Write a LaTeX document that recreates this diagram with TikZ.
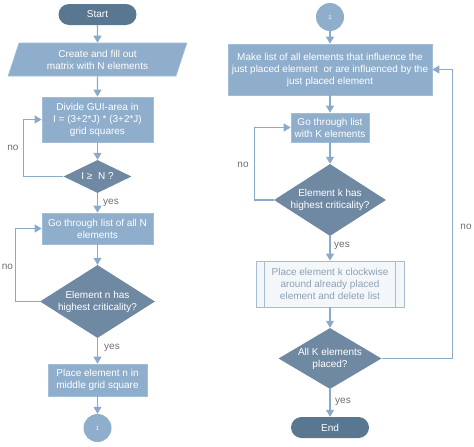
\documentclass[tikz,border=0pt]{standalone}
\usepackage{fontspec}
\setmainfont{Liberation Sans}
\usetikzlibrary{shapes.geometric,shapes.misc,arrows.meta,calc}
\definecolor{lightfill}{HTML}{8FAECB}
\definecolor{lightedge}{HTML}{A3BDD6}
\definecolor{darkterm}{HTML}{5A7792}
\definecolor{diafill}{HTML}{7089A3}
\definecolor{arrowc}{HTML}{8BAACA}
\definecolor{ppfill}{HTML}{F4F7FA}
\definecolor{ppdraw}{HTML}{A8BCD0}
\definecolor{pptext}{HTML}{8CA0B6}
\definecolor{labelc}{HTML}{6E6E6E}
\newcommand{\fs}{\fontsize{10pt}{12pt}\selectfont}
\begin{document}
\begin{tikzpicture}[x=1pt,y=-1pt,
  box/.style={rectangle, fill=lightfill, draw=lightedge, line width=0.6pt, text=white, align=center, font=\fs, inner sep=0pt},
  term/.style={rounded rectangle, fill=darkterm, draw=none, text=white, font=\fs, minimum width=78pt, minimum height=21pt, inner sep=0pt},
  dia/.style={diamond, fill=diafill, draw=none, inner sep=0pt},
  diatext/.style={text=white, align=center, font=\fs, inner sep=0pt},
  conn/.style={circle, fill=lightfill, draw=none, minimum size=28pt, inner sep=0pt, text=white, font=\fontsize{6pt}{7pt}\selectfont},
  arr/.style={draw=arrowc, line width=1.1pt, -{Triangle[length=7pt,width=8pt]}},
  lbl/.style={text=labelc, font=\fs, inner sep=0pt}
]
\useasboundingbox (0,0) rectangle (474,447);

% left column
\node[term] (start) at (97.5,14.5) {Start};
\node[trapezium, trapezium left angle=70, trapezium right angle=110, trapezium stretches=true,
      fill=lightfill, draw=lightedge, line width=0.6pt, text=white, align=center, font=\fs, inner sep=0pt,
      minimum width=179pt, minimum height=33pt] (para) at (97.5,59.5) {Create and fill out\\matrix with N elements};
\node[box, minimum width=111pt, minimum height=45pt] (divide) at (97.5,119.5) {Divide GUI-area in\\I = (3+2*J) * (3+2*J)\\grid squares};
\node[dia, minimum width=68pt, minimum height=33pt, label={[diatext]center:I ≥~ N ?}] (d1) at (97.5,176.5) {};
\node[box, minimum width=111pt, minimum height=31pt] (go1) at (97.5,228.5) {Go through list of all N\\elements};
\node[dia, minimum width=115pt, minimum height=73pt, label={[diatext]center:Element n has\\highest criticality?}] (d2) at (97.5,301.5) {};
\node[box, minimum width=99pt, minimum height=32pt] (place1) at (97.5,380) {Place element n in\\middle grid square};
\node[conn] (c1) at (97.5,428) {1};

% right column
\node[conn] (c2) at (330,17) {1};
\node[box, minimum width=204pt, minimum height=51pt] (make) at (330,69.5) {Make list of all elements that influence the\\just placed element~ or are influenced by the\\just placed element};
\node[box, minimum width=78pt, minimum height=29pt] (go2) at (330,127.5) {Go through list\\with K elements};
\node[dia, minimum width=112pt, minimum height=72pt, label={[diatext]center:Element k has\\highest criticality?}] (d3) at (330,200) {};
\node[rectangle, fill=ppfill, draw=ppdraw, line width=0.8pt, text=pptext, align=center, font=\fs, inner sep=0pt,
      minimum width=148pt, minimum height=46pt] (pp) at (330,284) {Place element k clockwise\\around already placed\\element and delete list};
\draw[ppdraw, line width=0.8pt] ([xshift=9pt]pp.north west) -- ([xshift=9pt]pp.south west)
      ([xshift=-9pt]pp.north east) -- ([xshift=-9pt]pp.south east);
\node[dia, minimum width=103pt, minimum height=61pt, label={[diatext]center:All K elements\\placed?}] (d4) at (330,358.5) {};
\node[term] (end) at (330,427.5) {End};

% connectors left
\draw[arr] (start) -- (para);
\draw[arr] (para) -- (divide);
\draw[arr] (divide) -- (d1);
\draw[arr] (d1.west) -- ++(-40,0) coordinate (l1) |- (divide.west);
\draw[arr] (d1) -- (go1);
\draw[arr] (go1) -- (d2);
\draw[arr] (d2.west) -- ++(-24,0) coordinate (l2) |- (go1.west);
\draw[arr] (d2) -- (place1);
\draw[arr] (place1) -- (c1);

% connectors right
\draw[arr] (c2) -- (make);
\draw[arr] (make) -- (go2);
\draw[arr] (go2) -- (d3);
\draw[arr] (d3.west) -- ++(-19,0) coordinate (l3) |- (go2.west);
\draw[arr] (d3) -- (pp);
\draw[arr] (pp) -- (d4);
\draw[arr] (d4.east) -- ++(71,0) coordinate (l4) |- (make.east);
\draw[arr] (d4) -- (end);

% labels
\node[lbl] (no1) at (13,148) {no};
\node[lbl] (yes1) at (111,203) {yes};
\node[lbl] (no2) at (7.5,267) {no};
\node[lbl] (yes2) at (112,348) {yes};
\node[lbl] (no3) at (243,164.5) {no};
\node[lbl] (yes3) at (342,246) {yes};
\node[lbl] (no4) at (466,227) {no};
\node[lbl] (yes4) at (343,402) {yes};
\end{tikzpicture}
\end{document}
